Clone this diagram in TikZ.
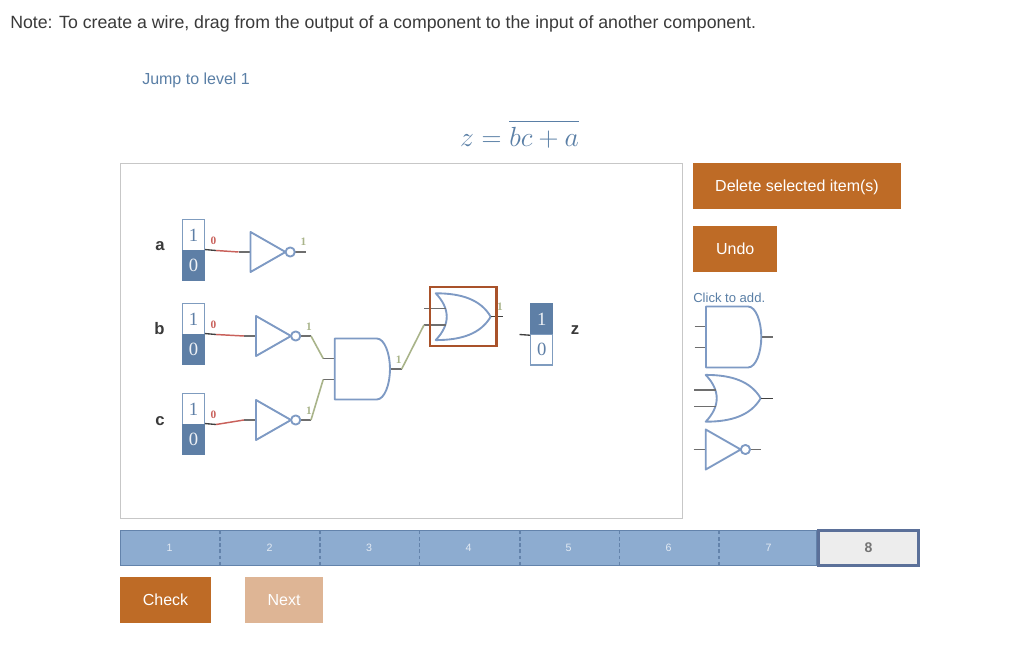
\documentclass[tikz,border=0pt]{standalone}
\usepackage{fontspec}
\newfontfamily\uifont{Liberation Sans}
\newfontfamily\digitfont{Liberation Serif}
\definecolor{ink}{HTML}{3A3A3A}
\definecolor{linkblue}{HTML}{5A7FA6}
\definecolor{gateblue}{HTML}{7E9AC4}
\definecolor{bitblue}{HTML}{5E7FA6}
\definecolor{bitedge}{HTML}{7F9CBF}
\definecolor{btn}{HTML}{BE6B26}
\definecolor{btnpale}{HTML}{DEB595}
\definecolor{barfill}{HTML}{8DACD0}
\definecolor{baredge}{HTML}{6383AB}
\definecolor{cursedge}{HTML}{5B7099}
\definecolor{selrect}{HTML}{A9522A}
\definecolor{wirered}{HTML}{C9615B}
\definecolor{wireolive}{HTML}{A9B48A}
\definecolor{stub}{HTML}{6E6E6E}
\tikzset{
  x=0.75pt,y=-0.75pt,
  gateline/.style={draw=gateblue,line width=1.4pt,line join=round,fill=white},
  stubline/.style={draw=stub,line width=1.3pt},
  wblack/.style={draw=black!75,line width=1pt},
  wred/.style={draw=wirered,line width=1.1pt},
  wolive/.style={draw=wireolive,line width=1.2pt},
  bitoff/.style={draw=bitedge,line width=1pt,fill=white,text=bitblue,minimum width=16.5pt,minimum height=22.9pt,inner sep=0pt,font=\digitfont\fontsize{14}{14}\selectfont},
  biton/.style={draw=bitblue,line width=1pt,fill=bitblue,text=white!90!bitblue,minimum width=16.5pt,minimum height=22.9pt,inner sep=0pt,font=\digitfont\fontsize{14}{14}\selectfont},
  sigzero/.style={text=wirered,inner sep=0pt,font=\digitfont\bfseries\fontsize{8.5}{8.5}\selectfont},
  sigone/.style={text=wireolive,inner sep=0pt,font=\digitfont\bfseries\fontsize{8.5}{8.5}\selectfont},
  iolabel/.style={text=ink,inner sep=0pt,anchor=base,font=\uifont\bfseries\fontsize{12.5}{12.5}\selectfont},
  btnbox/.style={fill=btn,text=white,inner sep=0pt,text height=9pt,text depth=1pt,font=\uifont\fontsize{12}{12}\selectfont},
  stepnum/.style={text=white!75!barfill,inner sep=0pt,font=\uifont\fontsize{8}{8}\selectfont},
  pics/notgate/.style={code={
    \coordinate (-in) at (-12,0); \coordinate (-out) at (55,0);
    \draw[stubline] (-12,0) -- (0,0);
    \draw[stubline] (44,0) -- (55,0);
    \draw[gateline] (0,-20) -- (0,20) -- (35,0) -- cycle;
    \draw[gateline] (39.7,0) circle (4.6);
  }},
  pics/andgate/.style={code={
    \coordinate (-ia) at (-11.5,-10.5); \coordinate (-ib) at (-11.5,10.5); \coordinate (-out) at (67,0);
    \draw[stubline] (-11.5,-10.5) -- (0,-10.5);
    \draw[stubline] (-11.5,10.5) -- (0,10.5);
    \draw[stubline] (55,0) -- (67,0);
    \draw[gateline] (0,-30.5) -- (42,-30.5) .. controls (50,-30.5) and (55.3,-15) .. (55.3,0)
       .. controls (55.3,15) and (50,30.5) .. (42,30.5) -- (0,30.5) -- cycle;
  }},
  pics/orgate/.style={code={
    \coordinate (-ia) at (-11.7,-8.3); \coordinate (-ib) at (-11.7,8.3); \coordinate (-out) at (67,0);
    \draw[gateline] (0,-23.4) .. controls (26,-23.4) and (45,-17) .. (55,0)
       .. controls (45,17) and (26,23.4) .. (0,23.4)
       .. controls (14.7,8) and (14.7,-8) .. (0,-23.4) -- cycle;
    \draw[stubline] (-11.7,-8.3) -- (10,-8.3);
    \draw[stubline] (-11.7,8.3) -- (10,8.3);
    \draw[wblack] (55,0) -- (67,0);
  }}
}
\begin{document}
\begin{tikzpicture}
\useasboundingbox (0,0) rectangle (1024,666);
\fill[white] (0,0) rectangle (1024,666);

\node[anchor=west,text=ink,inner sep=0pt,font=\uifont\fontsize{13.3}{13.3}\selectfont] (note) at (10,23.5) {Note: To create a wire, drag from the output of a component to the input of another component.};
\node[anchor=west,text=linkblue,inner sep=0pt,font=\uifont\fontsize{12}{12}\selectfont] (jump) at (142,80.5) {Jump to level 1};
\node[anchor=base,text=linkblue,inner sep=0pt,font=\fontsize{22.6}{22.6}\selectfont] (eqn) at (519.5,147) {\color{linkblue}$z=\overline{\rule{0pt}{18pt}bc+a}$};

\node[draw=black!22,line width=0.6pt,minimum width=422pt,minimum height=266pt,inner sep=0pt] (canvas) at (401.5,341) {};

% input and output bits
\node[bitoff] (a1) at (193.5,235) {1};
\node[biton]  (a0) at (193.5,265.5) {0};
\node[bitoff] (b1) at (193.5,319) {1};
\node[biton]  (b0) at (193.5,349.5) {0};
\node[bitoff] (c1) at (193.5,409) {1};
\node[biton]  (c0) at (193.5,439.5) {0};
\node[biton]  (z1) at (541.7,319.3) {1};
\node[bitoff] (z0) at (541.7,349.8) {0};
\node[iolabel] (la) at (160,251) {a};
\node[iolabel] (lb) at (159.5,335) {b};
\node[iolabel] (lc) at (160,425) {c};
\node[iolabel] (lz) at (575,335) {z};

% gates
\pic (n1) at (250.5,252) {notgate};
\pic (n2) at (256,336) {notgate};
\pic (n3) at (256,420) {notgate};
\pic (g1) at (334.7,369) {andgate};
\pic (g2) at (435.7,316.7) {orgate};
\node[draw=selrect,line width=1.6pt,minimum width=50pt,minimum height=44.5pt,inner sep=0pt] (sel) at (463.2,316.6) {};

% palette
\pic (p1) at (706,337) {andgate};
\pic (p2) at (705.7,398.3) {orgate};
\pic (p3) at (705.7,449.5) {notgate};

% wires
\coordinate (wa) at (216,250.5);
\coordinate (wb) at (216,334.5);
\coordinate (wc) at (216,424.5);
\coordinate (wz) at (519.5,334.5);
\draw[wblack] (a0.north east) -- (wa);
\draw[wred] (wa) -- (n1-in);
\draw[wblack] (b0.north east) -- (wb);
\draw[wred] (wb) -- (n2-in);
\draw[wblack] (c0.north east) -- (wc);
\draw[wred] (wc) -- (n3-in);
\draw[wolive] (n2-out) -- (g1-ia);
\draw[wolive] (n3-out) -- (g1-ib);
\draw[wolive] (g1-out) -- (g2-ib);
\draw[wblack] (wz) -- (z1.south west);

% signal values
\node[sigzero] (va) at (213.5,241) {0};
\node[sigzero] (vb) at (213.5,325) {0};
\node[sigzero] (vc) at (213.5,415) {0};
\node[sigone] (vn1) at (303.5,242) {1};
\node[sigone] (vn2) at (309,326.7) {1};
\node[sigone] (vn3) at (309,410.7) {1};
\node[sigone] (vg1) at (398.7,359.3) {1};
\node[sigone] (vg2) at (500,307) {1};

% buttons
\node[btnbox,minimum width=156pt,minimum height=34.5pt] (del) at (797,186) {Delete selected item(s)};
\node[btnbox,minimum width=63.4pt,minimum height=34.5pt] (undo) at (735.2,249) {Undo};
\node[btnbox,minimum width=68.2pt,minimum height=34.5pt] (check) at (165.5,600) {Check};
\node[btnbox,fill=btnpale,minimum width=58.5pt,minimum height=34.5pt] (next) at (284,600) {Next};
\node[anchor=west,text=linkblue,inner sep=0pt,font=\uifont\fontsize{9.8}{9.8}\selectfont] (click) at (693,297.5) {Click to add.};

% progress bar
\node[draw=baredge,fill=barfill,line width=0.8pt,minimum width=522.5pt,minimum height=26.2pt,inner sep=0pt] (bar) at (468.5,548) {};
\foreach \xx in {220,320,419.5,520,619.5,719}
  \draw[baredge,line width=0.8pt,dash pattern=on 2.6pt off 2pt] (\xx,531) -- (\xx,565);
\node[stepnum] (s1) at (169.5,548) {1};
\node[stepnum] (s2) at (269.5,548) {2};
\node[stepnum] (s3) at (369,548) {3};
\node[stepnum] (s4) at (468.7,548) {4};
\node[stepnum] (s5) at (568.7,548) {5};
\node[stepnum] (s6) at (668.7,548) {6};
\node[stepnum] (s7) at (768.7,548) {7};
\node[draw=cursedge,fill=black!7,line width=2.2pt,minimum width=75pt,minimum height=26.4pt,inner sep=0pt,text=black!55,font=\uifont\bfseries\fontsize{10.5}{10.5}\selectfont] (s8) at (868.5,548) {8};
\end{tikzpicture}
\end{document}
